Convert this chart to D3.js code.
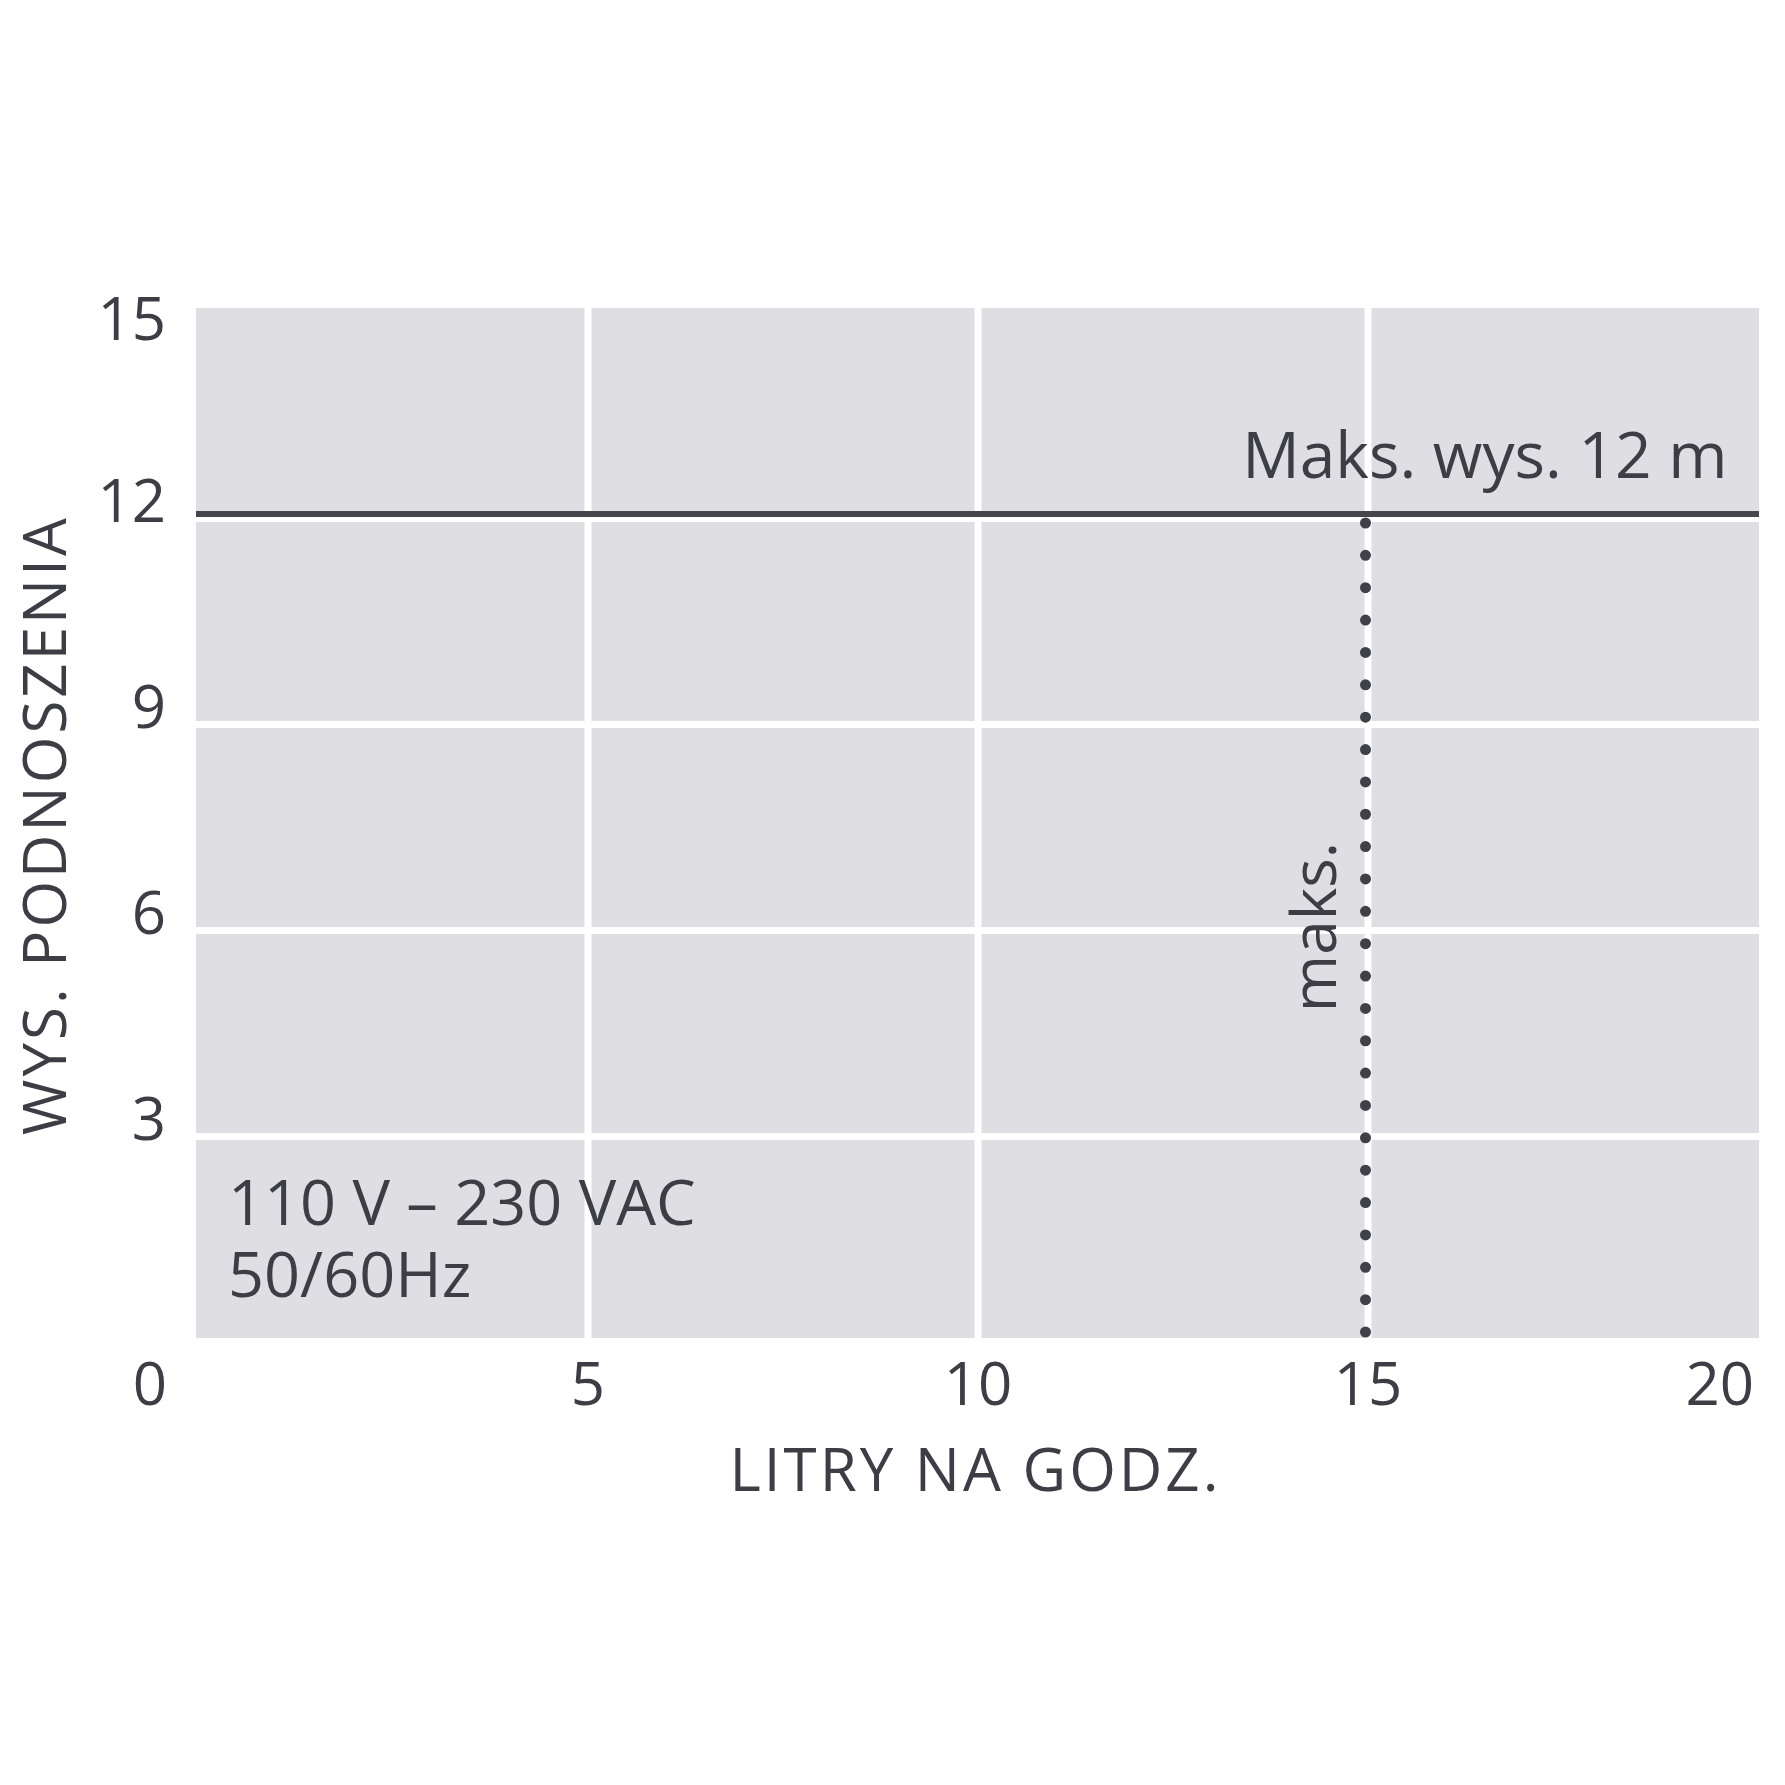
<!DOCTYPE html>
<html>
<head>
<meta charset="utf-8">
<script src="https://cdn.jsdelivr.net/npm/d3@7"></script>
<style>
    html, body { margin: 0; padding: 0; background: #fff; }
    svg text { font-family: "Open Sans", "Noto Sans", sans-serif; fill: #3d3e45; }
    .grid line { stroke: #fff; stroke-width: 7; }
    .grid path { display: none; }
</style>
</head>
<body>
<svg id="chart" width="1785" height="1785"></svg>
<script>
(() => {

    // values
    const xDomain = [0, 20];
    const yDomain = [0, 15];
    const xTicks = [0, 5, 10, 15, 20];
    const yTicks = [3, 6, 9, 12, 15];
    const xGrid = [5, 10, 15];
    const yGrid = [3, 6, 9, 12];
    const maxHeight = 12;   // m
    const maxFlow = 15;     // l/h
    const labelMaxHeight = "Maks. wys. 12 m";
    const labelMaxFlow = "maks.";
    const labelPower = ["110 V \u2013 230 VAC", "50/60Hz"];
    const xTitle = "LITRY NA GODZ.";
    const yTitle = "WYS. PODNOSZENIA";

    const svg = d3.select("svg#chart");
    const ink = "#46474d";

    const x = d3.scaleLinear().domain(xDomain).range([197.5, 1757.5]);
    const y = d3.scaleLinear().domain(yDomain).range([1340, 310]);

    // grey plot area
    svg.append("rect")
        .attr("x", x(0) - 1.5)
        .attr("y", y(15) - 2)
        .attr("width", x(20) - x(0) + 3)
        .attr("height", y(0) - y(15))
        .attr("fill", "#dfdfe3");

    // white grid lines
    svg.append("g")
        .attr("class", "grid")
        .attr("transform", `translate(0, ${y(0) - 2})`)
        .call(d3.axisBottom(x)
            .tickValues(xGrid)
            .tickSize(-(y(0) - y(15)))
            .tickFormat(""));

    svg.append("g")
        .attr("class", "grid")
        .attr("transform", `translate(${x(0) - 1.5}, 2)`)
        .call(d3.axisLeft(y)
            .tickValues(yGrid)
            .tickSize(-(x(20) - x(0) + 3))
            .tickFormat(""));

    // max lift height line
    svg.append("line")
        .attr("x1", x(0) - 1.5)
        .attr("x2", x(20) + 1.5)
        .attr("y1", y(maxHeight) - 2)
        .attr("y2", y(maxHeight) - 2)
        .attr("stroke", ink)
        .attr("stroke-width", 6);

    // dotted line at max flow
    const dotTop = y(maxHeight) + 7;
    const dotBottom = y(0) - 8;
    svg.append("line")
        .attr("x1", x(maxFlow) - 2)
        .attr("x2", x(maxFlow) - 2)
        .attr("y1", dotTop)
        .attr("y2", dotBottom + 1)
        .attr("stroke", "#404148")
        .attr("stroke-width", 11)
        .attr("stroke-linecap", "round")
        .attr("stroke-dasharray", `0 ${(dotBottom - dotTop) / 25}`);

    // tick labels
    const xAxis = svg.append("g")
        .attr("transform", `translate(0, ${y(0)})`)
        .call(d3.axisBottom(x)
            .tickValues(xTicks)
            .tickSize(0)
            .tickPadding(0));
    xAxis.select(".domain").remove();
    xAxis.selectAll("text")
        .attr("y", 65)
        .attr("dy", 0)
        .attr("font-size", 60)
        .attr("fill", "#3d3e45")
        .attr("text-anchor", d => d === 0 ? "end" : d === 20 ? "end" : "middle")
        .attr("dx", d => d === 0 ? -31 : d === 20 ? -4 : 0);

    const yAxis = svg.append("g")
        .attr("transform", `translate(166, 0)`)
        .call(d3.axisLeft(y)
            .tickValues(yTicks)
            .tickSize(0)
            .tickPadding(0));
    yAxis.select(".domain").remove();
    yAxis.selectAll("text")
        .attr("font-size", 60)
        .attr("fill", "#3d3e45")
        .attr("dy", "0.35em")
        .attr("y", d => Math.max(-16, y(15) + 8 - y(d)));

    // axis titles
    svg.append("text")
        .attr("x", (x(0) + x(20)) / 2 - 2)
        .attr("y", 1491)
        .attr("text-anchor", "middle")
        .attr("font-size", 60)
        .attr("letter-spacing", 3)
        .text(xTitle);

    svg.append("text")
        .attr("transform", `translate(66, ${(y(0) + y(15)) / 2}) rotate(-90)`)
        .attr("text-anchor", "middle")
        .attr("font-size", 60)
        .attr("letter-spacing", 3)
        .text(yTitle);

    // annotations
    svg.append("text")
        .attr("x", x(20) - 30)
        .attr("y", y(maxHeight) - 38)
        .attr("text-anchor", "end")
        .attr("font-size", 64)
        .text(labelMaxHeight);

    svg.append("text")
        .attr("transform", `translate(${x(maxFlow) - 32}, 927) rotate(-90)`)
        .attr("text-anchor", "middle")
        .attr("font-size", 62)
        .text(labelMaxFlow);

    // two-line power note, one text block
    svg.append("text")
        .attr("font-size", 63)
        .selectAll("tspan")
        .data(labelPower)
        .enter()
        .append("tspan")
        .attr("x", 228)
        .attr("y", (d, i) => 1225 + i * 72)
        .text(d => d);

})();
</script>
</body>
</html>
